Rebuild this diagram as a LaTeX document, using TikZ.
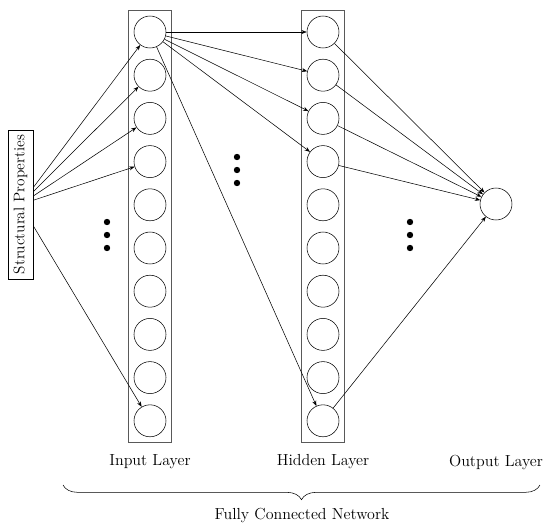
\documentclass[tikz,border=0pt]{standalone}
\usepackage{tikz}
\usetikzlibrary{positioning}
\usetikzlibrary{fit}
\usetikzlibrary{arrows.meta}
\usetikzlibrary{decorations.pathreplacing}
\tikzstyle{neuron} = [draw=black, thin, circle, minimum size=24pt, inner sep=0pt]
\tikzstyle{layerbox} = [draw=black!65, thin, rectangle, inner sep=4pt]
\tikzstyle{propbox} = [draw=black, thin, rectangle, rotate=90, minimum width=112pt,
minimum height=18.75pt, inner sep=1pt, font=\fontsize{11.5}{13}\selectfont]
\tikzstyle{lbl} = [font=\fontsize{12}{14}\selectfont]
\tikzstyle{conn} = [-{Stealth[length=4pt, width=3pt]}, thin]

\begin{document}
\begin{tikzpicture}[x=0.75pt, y=-0.75pt]
        \useasboundingbox (0,0) rectangle (550,529);
        % neurons of both layers
        \foreach \i in {1,...,10} {
            \node [neuron] (in\i) at (150, {32+(\i-1)*43.2}) {};
            \node [neuron] (hid\i) at (323, {32+(\i-1)*43.2}) {};
        }
        \node [layerbox, fit=(in1)(in10)] (inbox) {};
        \node [layerbox, fit=(hid1)(hid10)] (hidbox) {};
        \node [neuron] (out) at (496,204) {};
        \node [propbox] (props) at (20.5,204.5) {Structural Properties};
        % connections
        \foreach \i in {1,2,3,4,10} {
            \draw [conn] (props) -- (in\i);
            \draw [conn] (in1) -- (hid\i);
            \draw [conn] (hid\i) -- (out);
        }
        % dots
        \foreach \y in {222,235,248} {
            \fill (107,\y) circle (2.4pt);
            \fill (410,\y) circle (2.4pt);
        }
        \foreach \y in {157,170,183}
            \fill (237,\y) circle (2.4pt);
        % labels
        \node [lbl] (inlbl) at (150,462) {Input Layer};
        \node [lbl] (hidlbl) at (323,462) {Hidden Layer};
        \node [lbl] (outlbl) at (496,462) {Output Layer};
        \coordinate (bl) at (63,485);
        \coordinate (br) at (540,485);
        \draw [decorate, decoration={brace, mirror, amplitude=11pt}] (bl) -- (br);
        \node [lbl] (netlbl) at (302,515) {Fully Connected Network};
    \end{tikzpicture}
\end{document}
